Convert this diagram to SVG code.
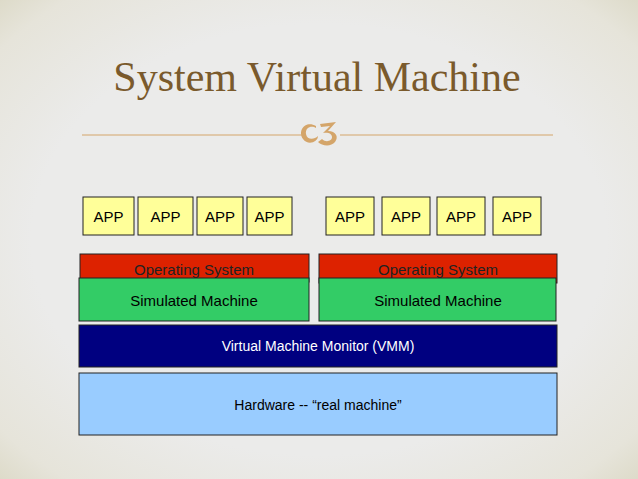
<svg xmlns="http://www.w3.org/2000/svg" width="638" height="479" viewBox="0 0 638 479">
<defs>
<radialGradient id="bg" cx="50%" cy="50%" r="75%">
<stop offset="0.6" stop-color="#ebebea"/>
<stop offset="0.85" stop-color="#e6e4da"/>
<stop offset="1" stop-color="#d8d5bf"/>
</radialGradient>
<style>
.app{fill:#ffff99;stroke:#222;stroke-width:1}
.t{font-family:"Liberation Sans",Arial,sans-serif;font-size:15px;text-anchor:middle;fill:#000}
.w{fill:#fff;font-size:14px}
.d{fill:#222}
.bx{stroke:#222;stroke-width:1}
</style>
</defs>
<rect width="638" height="479" fill="url(#bg)"/>
<text x="317" y="91" font-family="'Liberation Serif',serif" font-size="42" fill="#7a5a2c" text-anchor="middle">System Virtual Machine</text>
<line x1="82" y1="135" x2="302" y2="135" stroke="#d4a56a" stroke-width="1"/>
<line x1="340" y1="135" x2="553" y2="135" stroke="#d4a56a" stroke-width="1"/>
<path d="M316 126 C306 120 297 130 303 139 C308 146 318 142 318 136 C314 140 307 140 306 134 C305 127 312 125 316 128 Z M320 124 L336 122 L328 131 C336 131 339 137 335 142 C331 147 322 146 318 142 L322 139 C326 143 332 141 332 137 C332 133 327 132 323 133 L330 126 L321 127 Z" fill="#d4a56a"/>
<g id="apps-left">
<rect class="app" x="83" y="197" width="51" height="38"/><text class="t" x="108.5" y="222">APP</text>
<rect class="app" x="138" y="197" width="55" height="38"/><text class="t" x="165.5" y="222">APP</text>
<rect class="app" x="197" y="197" width="46" height="38"/><text class="t" x="220" y="222">APP</text>
<rect class="app" x="247" y="197" width="45" height="38"/><text class="t" x="269.5" y="222">APP</text>
</g>
<g id="apps-right">
<rect class="app" x="326" y="197" width="48" height="38"/><text class="t" x="350" y="222">APP</text>
<rect class="app" x="382" y="197" width="48" height="38"/><text class="t" x="406" y="222">APP</text>
<rect class="app" x="437" y="197" width="48" height="38"/><text class="t" x="461" y="222">APP</text>
<rect class="app" x="493" y="197" width="48" height="38"/><text class="t" x="517" y="222">APP</text>
</g>
<g id="os-left">
<rect class="bx" x="80" y="254" width="229" height="28" fill="#dd2200"/>
<text class="t d" x="194" y="275">Operating System</text>
</g>
<g id="os-right">
<rect class="bx" x="319" y="254" width="238" height="29" fill="#dd2200"/>
<text class="t d" x="438" y="275">Operating System</text>
</g>
<g id="sim-left">
<rect class="bx" x="79" y="278" width="230" height="43" fill="#33cc66"/>
<text class="t" x="194" y="306">Simulated Machine</text>
</g>
<g id="sim-right">
<rect class="bx" x="319" y="278" width="237" height="43" fill="#33cc66"/>
<text class="t" x="438" y="306">Simulated Machine</text>
</g>
<g id="vmm">
<rect class="bx" x="79" y="325" width="478" height="42" fill="#000080"/>
<text class="t w" x="318" y="351">Virtual Machine Monitor (VMM)</text>
</g>
<g id="hardware">
<rect class="bx" x="79" y="373" width="478" height="62" fill="#99ccff"/>
<text class="t" x="318" y="410" style="font-size:14px">Hardware -- “real machine”</text>
</g>
<g id="connectors"/>
</svg>
